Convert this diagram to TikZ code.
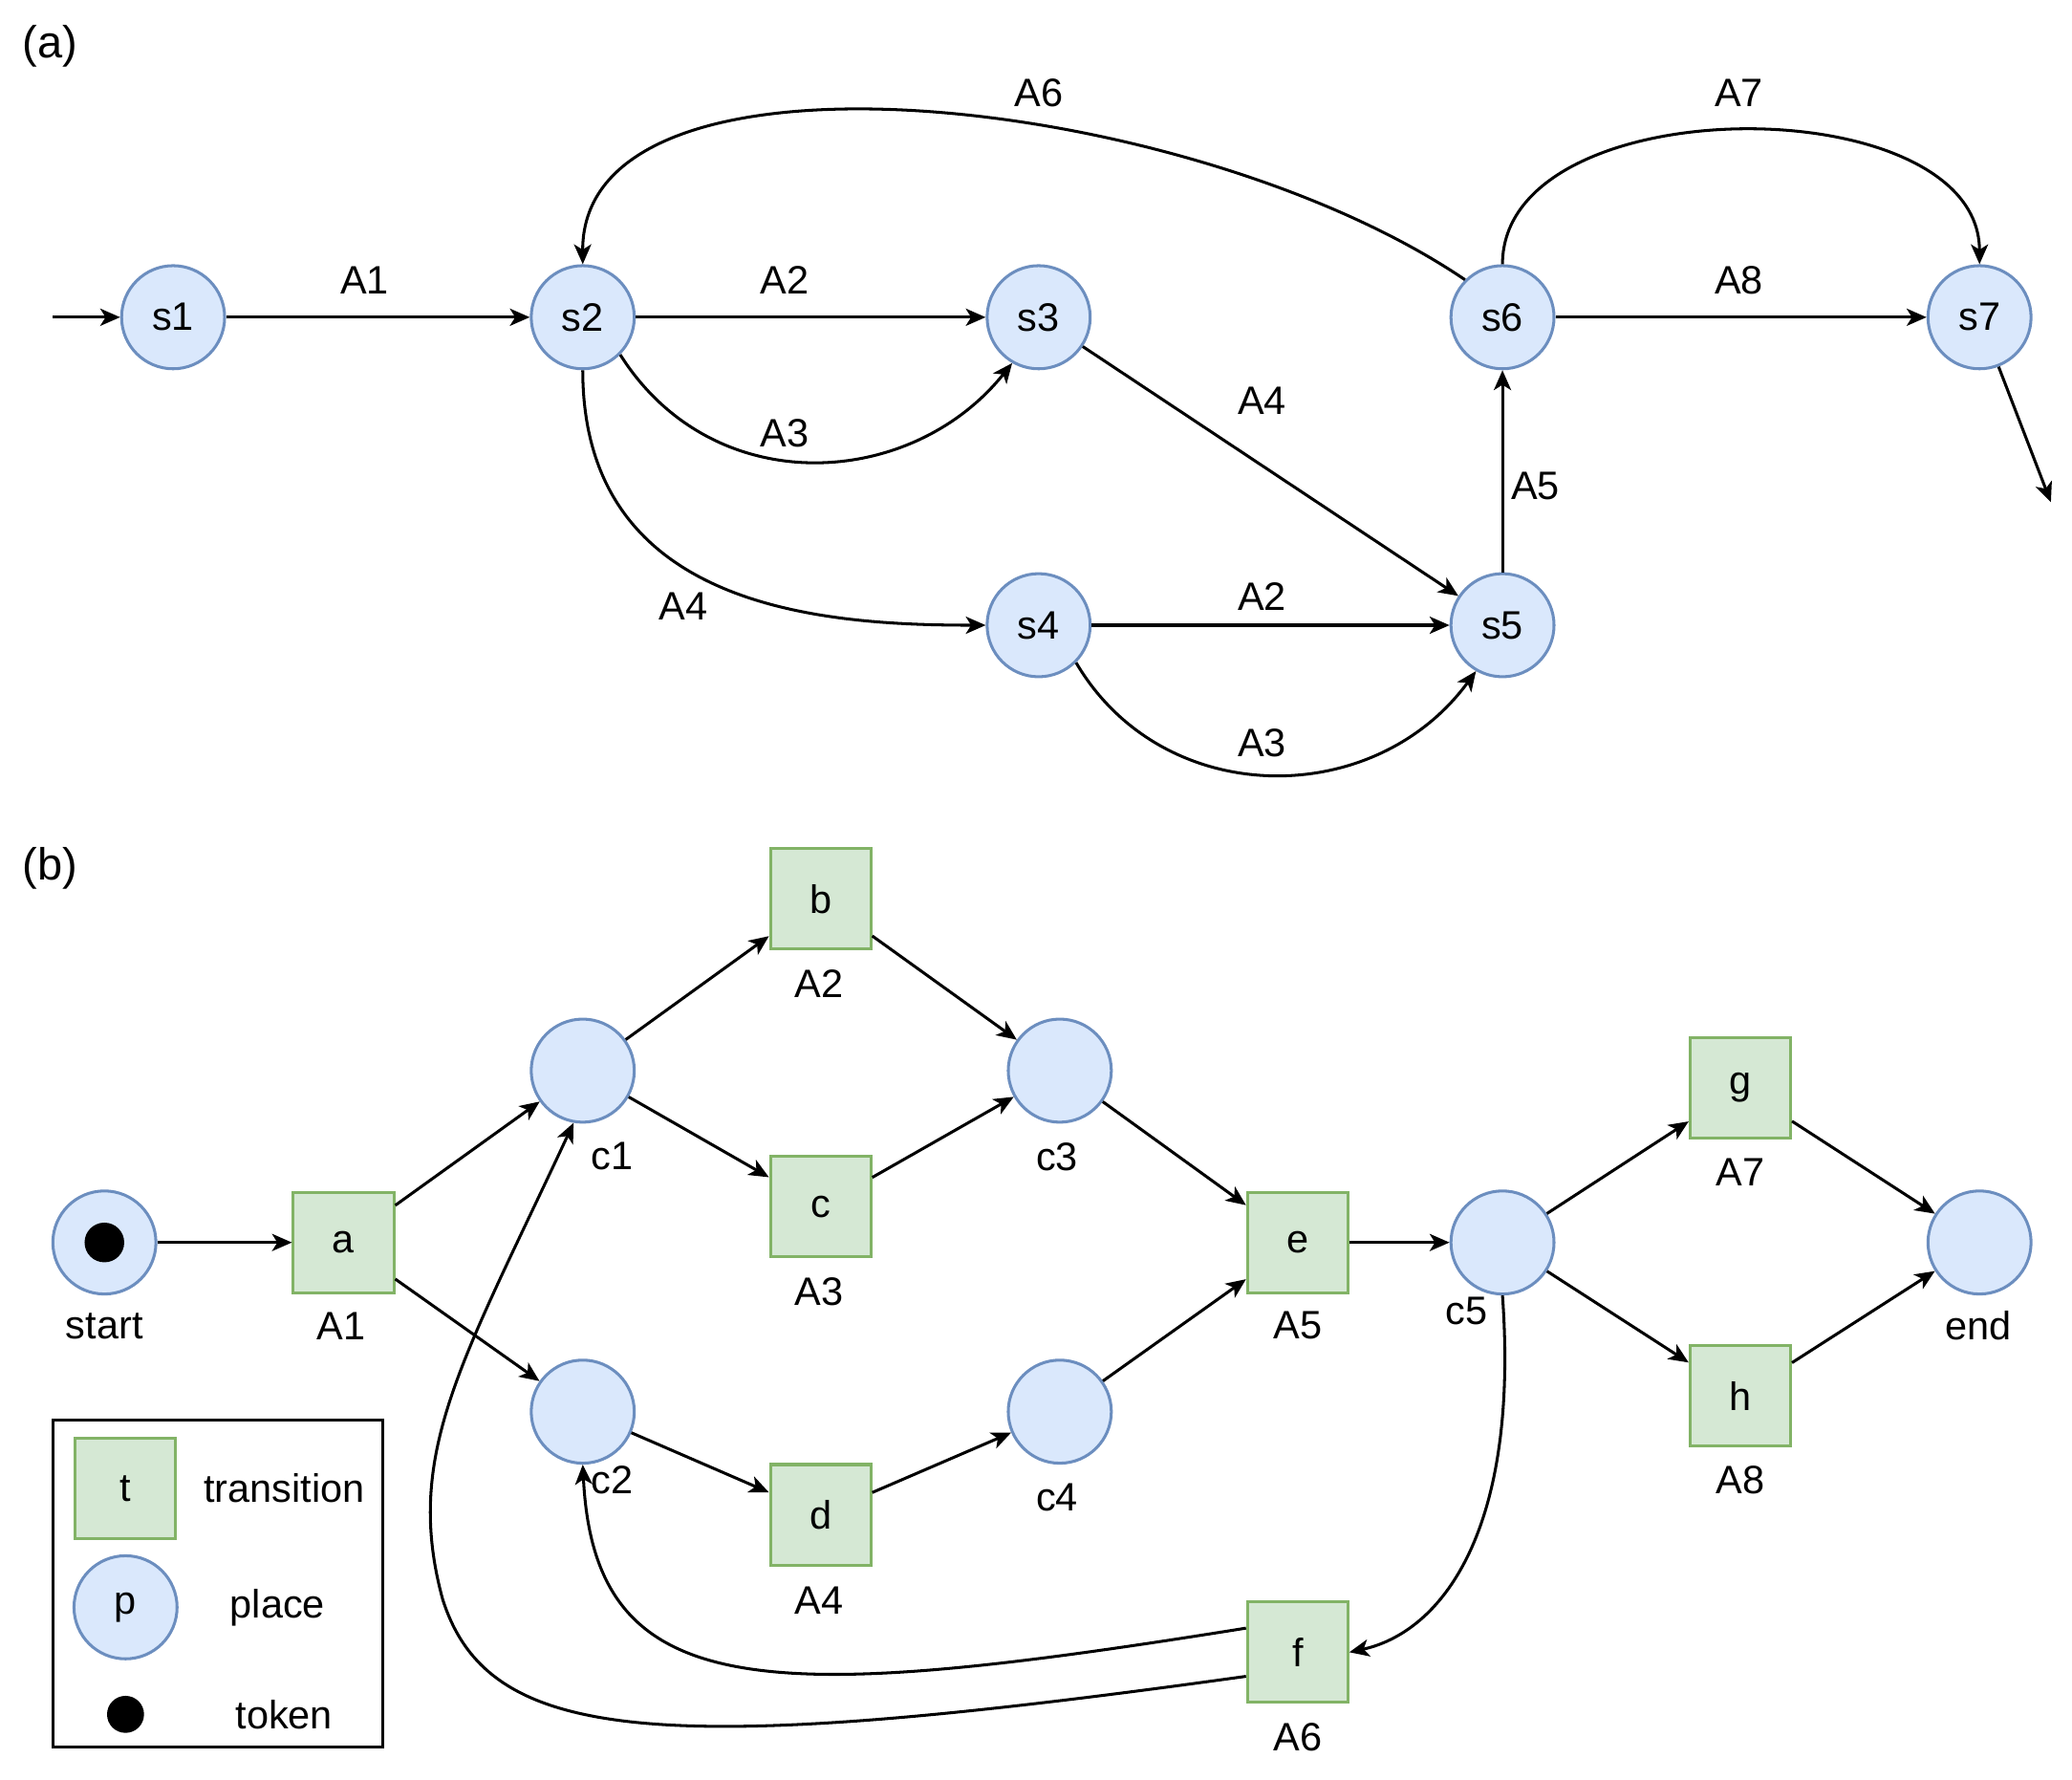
\documentclass[tikz,border=0pt]{standalone}
\usepackage{fontspec}
\setmainfont{Liberation Sans}
\usetikzlibrary{arrows.meta}
\definecolor{pf}{HTML}{DAE8FC}\definecolor{ps}{HTML}{6C8EBF}
\definecolor{tf}{HTML}{D5E8D4}\definecolor{ts}{HTML}{82B366}
\begin{document}
\begin{tikzpicture}[x=0.5pt,y=-0.5pt,
  font=\fontsize{15}{18}\selectfont,
  pl/.style={circle,draw=ps,fill=pf,line width=1.1pt,minimum size=39pt,inner sep=0pt},
  tr/.style={rectangle,draw=ts,fill=tf,line width=1.1pt,minimum size=38pt,inner sep=0pt},
  e/.style={-{Stealth[length=7.5pt,width=6.5pt,inset=2pt]},line width=1.1pt},
  lb/.style={inner sep=1pt}]
\useasboundingbox (0,0) rectangle (1568,1346);
\node[lb,font=\fontsize{17}{20}\selectfont] (la) at (38,35) {(a)};
\node[lb,font=\fontsize{17}{20}\selectfont] (lbb) at (38,657) {(b)};
% (a)
\node[pl] (s1) at (131,240) {s1};
\node[pl] (s2) at (441,240) {s2};
\node[pl] (s3) at (786,240) {s3};
\node[pl] (s4) at (786,473) {s4};
\node[pl] (s5) at (1137,473) {s5};
\node[pl] (s6) at (1137,240) {s6};
\node[pl] (s7) at (1498,240) {s7};
\coordinate (in) at (40,240);
\coordinate (out) at (1552,380);
\draw[e] (in) -- (s1);
\draw[e] (s1) -- (s2);
\draw[e] (s2) -- (s3);
\draw[e] (s2.-45) .. controls (540,380) and (690,370) .. (s3.-120);
\draw[e] (s2.-90) .. controls (441,460) and (620,473) .. (s4.180);
\draw[e] (s3) -- (s5);
\draw[e] (s4) -- (s5);
\draw[e] (s4.-45) .. controls (880,613) and (1040,613) .. (s5.-120);
\draw[e] (s5) -- (s6);
\draw[e] (s6) -- (s7);
\draw[e] (s6.135) .. controls (900,70) and (440,20) .. (s2.90);
\draw[e] (s6.90) .. controls (1137,65) and (1498,65) .. (s7.90);
\draw[e] (s7) -- (out);
\node[lb] (a1) at (276,212) {A1};
\node[lb] (a2) at (594,212) {A2};
\node[lb] (a3) at (594,328) {A3};
\node[lb] (a4) at (955,303) {A4};
\node[lb] (a4b) at (517,459) {A4};
\node[lb] (a2b) at (955,451) {A2};
\node[lb] (a3b) at (955,562) {A3};
\node[lb] (a5) at (1162,368) {A5};
\node[lb] (a6) at (786,70) {A6};
\node[lb] (a7) at (1316,70) {A7};
\node[lb] (a8) at (1316,212) {A8};
% (b)
\node[pl] (start) at (79,940) {};
\fill (start) circle (7.5pt);
\node[tr] (ta) at (260,940) {a};
\node[pl] (c1) at (441,810) {};
\node[pl] (c2) at (441,1068) {};
\node[tr] (tb) at (621,680) {b};
\node[tr] (tc) at (621,913) {c};
\node[tr] (td) at (621,1146) {d};
\node[pl] (c3) at (802,810) {};
\node[pl] (c4) at (802,1068) {};
\node[tr] (te) at (982,940) {e};
\node[pl] (c5) at (1137,940) {};
\node[tr] (tf) at (982,1250) {f};
\node[tr] (tg) at (1317,823) {g};
\node[tr] (th) at (1317,1056) {h};
\node[pl] (end) at (1498,940) {};
\draw[e] (start) -- (ta);
\draw[e] (ta) -- (c1);
\draw[e] (ta) -- (c2);
\draw[e] (c1) -- (tb);
\draw[e] (c1) -- (tc);
\draw[e] (tb) -- (c3);
\draw[e] (tc) -- (c3);
\draw[e] (c2) -- (td);
\draw[e] (td) -- (c4);
\draw[e] (c3) -- (te);
\draw[e] (c4) -- (te);
\draw[e] (te) -- (c5);
\draw[e] (c5) -- (tg);
\draw[e] (c5) -- (th);
\draw[e] (tg) -- (end);
\draw[e] (th) -- (end);
\draw[e] (c5.-90) .. controls (1150,1160) and (1090,1235) .. (tf.0);
\draw[e] (tf.155) .. controls (580,1290) and (450,1290) .. (c2.-90);
\draw[e] (tf.-155) .. controls (500,1330) and (370,1320) .. (335,1210) .. controls (305,1100) and (350,1030) .. (c1.-100);
\node[lb] (n1) at (79,1003) {start};
\node[lb] (n2) at (258,1003) {A1};
\node[lb] (n3) at (463,875) {c1};
\node[lb] (n4) at (620,744) {A2};
\node[lb] (n5) at (620,977) {A3};
\node[lb] (n6) at (463,1120) {c2};
\node[lb] (n7) at (620,1211) {A4};
\node[lb] (n8) at (800,875) {c3};
\node[lb] (n9) at (800,1133) {c4};
\node[lb] (n10) at (982,1003) {A5};
\node[lb] (n11) at (1110,992) {c5};
\node[lb] (n12) at (982,1314) {A6};
\node[lb] (n13) at (1317,887) {A7};
\node[lb] (n14) at (1317,1120) {A8};
\node[lb] (n15) at (1497,1003) {end};
% legend
\node[draw,line width=1.1pt,minimum width=125pt,minimum height=123.5pt,inner sep=0pt] (leg) at (165,1198) {};
\node[tr] (lt) at (95,1126) {t};
\node[lb] (ltt) at (215,1126) {transition};
\node[pl] (lp) at (95,1216) {p};
\node[lb] (lpt) at (210,1216) {place};
\node[circle,fill=black,minimum size=14pt,inner sep=0pt] (ltk) at (95,1297) {};
\node[lb] (ltkt) at (215,1297) {token};
\end{tikzpicture}
\end{document}
